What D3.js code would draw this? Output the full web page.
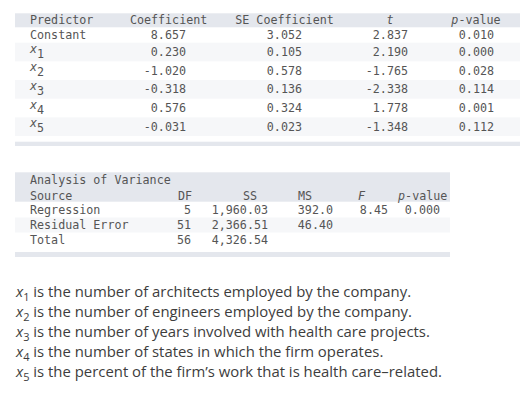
<!DOCTYPE html>
<html>
<head>
<meta charset="utf-8">
<script src="https://cdn.jsdelivr.net/npm/d3@7"></script>
<style>
  html, body { margin: 0; padding: 0; background: #fff; }
  svg { display: block; }
  .mono { font-family: "DejaVu Sans Mono", monospace; font-size: 11.7px; fill: #555; }
  .note { font-family: "Open Sans", sans-serif; font-size: 14.9px; fill: #3d3d3d; }
</style>
</head>
<body>
<svg id="chart" width="530" height="404"></svg>
<script>
// regression table
const predictors = ['Constant', 'x1', 'x2', 'x3', 'x4', 'x5'];
const coefficient = ['8.657', '0.230', '-1.020', '-0.318', '0.576', '-0.031'];
const seCoefficient = ['3.052', '0.105', '0.578', '0.136', '0.324', '0.023'];
const tValue = ['2.837', '2.190', '-1.765', '-2.338', '1.778', '-1.348'];
const pValue = ['0.010', '0.000', '0.028', '0.114', '0.001', '0.112'];

// analysis of variance
const sources = ['Regression', 'Residual Error', 'Total'];
const anovaDF = ['5', '51', '56'];
const anovaSS = ['1,960.03', '2,366.51', '4,326.54'];
const anovaMS = ['392.0', '46.40', ''];
const anovaF = ['8.45', '', ''];
const anovaP = ['0.000', '', ''];

const notes = [
  ['1', 'is the number of architects employed by the company.'],
  ['2', 'is the number of engineers employed by the company.'],
  ['3', 'is the number of years involved with health care projects.'],
  ['4', 'is the number of states in which the firm operates.'],
  ['5', 'is the percent of the firm\u2019s work that is health care\u2013related.']
];

const HEAD = '#e4e7ed', STRIPE = '#f6f7f9';
const svg = d3.select('#chart');

// writes "x1" style labels as italic x + subscript
function label(sel, s) {
  const m = /^x(\d)$/.exec(s);
  if (!m) { sel.text(s); return; }
  sel.append('tspan').attr('font-style', 'italic').text('x');
  sel.append('tspan').attr('dy', 5).text(m[1]);
}

// ---- top table ----
const reg = svg.append('g');
const tLeft = 15, tRight = 520;
const yConst = d3.scaleBand().domain(['Constant']).range([27.3, 42.7]);
const yX = d3.scaleBand().domain(predictors.slice(1)).range([42.7, 136]);
const rowY = p => p === 'Constant' ? yConst(p) : yX(p);
const rowH = p => p === 'Constant' ? yConst.bandwidth() : yX.bandwidth();

reg.append('rect').attr('x', tLeft).attr('y', 13.3).attr('width', tRight - tLeft).attr('height', 14).attr('fill', HEAD);
reg.selectAll('rect.stripe').data(predictors.filter((d, i) => i % 2 === 1)).join('rect')
  .attr('class', 'stripe')
  .attr('x', tLeft).attr('y', d => rowY(d)).attr('width', tRight - tLeft).attr('height', d => rowH(d))
  .attr('fill', STRIPE);
reg.append('rect').attr('x', tLeft).attr('y', 141.7).attr('width', tRight - tLeft).attr('height', 4.3).attr('fill', HEAD);

const regCols = [
  { head: 'Coefficient', hx: 168.6, vx: 186, vals: coefficient },
  { head: 'SE Coefficient', hx: 284.5, vx: 302, vals: seCoefficient },
  { head: 't', hx: 390, vx: 408, vals: tValue, italic: true },
  { head: 'p', hx: 476, vx: 494, vals: pValue, pv: true }
];
reg.append('text').attr('class', 'mono').attr('x', 30).attr('y', 24.3).text('Predictor');
regCols.forEach(c => {
  const t = reg.append('text').attr('class', 'mono').attr('x', c.hx).attr('y', 24.3).attr('text-anchor', 'middle');
  if (c.pv) { t.append('tspan').attr('font-style', 'italic').text('p'); t.append('tspan').text('-value'); }
  else t.attr('font-style', c.italic ? 'italic' : null).text(c.head);
  reg.selectAll(null).data(predictors).join('text')
    .attr('class', 'mono').attr('text-anchor', 'end')
    .attr('x', c.vx).attr('y', d => rowY(d) + rowH(d) / 2 + 4)
    .text((d, i) => c.vals[i]);
});
reg.selectAll('text.pred').data(predictors).join('text')
  .attr('class', 'mono pred').attr('x', 30)
  .attr('y', d => rowY(d) + rowH(d) / 2 + (d === 'Constant' ? 4 : 0.5))
  .each(function (d) { label(d3.select(this), d); });

// ---- ANOVA table ----
const an = svg.append('g');
const aLeft = 15, aRight = 450;
const yA = d3.scaleBand().domain(sources).range([202.5, 247.5]);
an.append('rect').attr('x', aLeft).attr('y', 172.3).attr('width', aRight - aLeft).attr('height', 29.4).attr('fill', HEAD);
an.append('rect').attr('x', aLeft).attr('y', yA('Residual Error')).attr('width', aRight - aLeft).attr('height', yA.bandwidth()).attr('fill', STRIPE);
an.append('rect').attr('x', aLeft).attr('y', 252).attr('width', aRight - aLeft).attr('height', 5).attr('fill', HEAD);

an.append('text').attr('class', 'mono').attr('x', 30).attr('y', 184.3).text('Analysis of Variance');
an.append('text').attr('class', 'mono').attr('x', 30).attr('y', 199.5).text('Source');
const aCols = [
  { head: 'DF', hx: 185, vx: 191, vals: anovaDF },
  { head: 'SS', hx: 250, vx: 268, vals: anovaSS },
  { head: 'MS', hx: 305, vx: 333, vals: anovaMS },
  { head: 'F', hx: 361.5, vx: 388, vals: anovaF, italic: true },
  { head: 'p', hx: 422.7, vx: 440, vals: anovaP, pv: true }
];
aCols.forEach(c => {
  const t = an.append('text').attr('class', 'mono').attr('x', c.hx).attr('y', 199.5).attr('text-anchor', 'middle');
  if (c.pv) { t.append('tspan').attr('font-style', 'italic').text('p'); t.append('tspan').text('-value'); }
  else t.attr('font-style', c.italic ? 'italic' : null).text(c.head);
  an.selectAll(null).data(sources).join('text')
    .attr('class', 'mono').attr('text-anchor', 'end')
    .attr('x', c.vx).attr('y', d => yA(d) + yA.bandwidth() / 2 + 4)
    .text((d, i) => c.vals[i]);
});
an.selectAll('text.src').data(sources).join('text')
  .attr('class', 'mono src').attr('x', 30)
  .attr('y', d => yA(d) + yA.bandwidth() / 2 + 4)
  .text(d => d);

// ---- notes ----
const yN = d3.scalePoint().domain(notes.map(n => n[0])).range([297, 377]);
svg.selectAll('text.note').data(notes).join('text')
  .attr('class', 'note').attr('x', 16).attr('y', d => yN(d[0]))
  .each(function (d) {
    const t = d3.select(this);
    t.append('tspan').attr('font-style', 'italic').text('x');
    t.append('tspan').attr('dy', 4).attr('font-size', '11px').text(d[0]);
    t.append('tspan').attr('dy', -4).text(' ' + d[1]);
  });
</script>
</body>
</html>
